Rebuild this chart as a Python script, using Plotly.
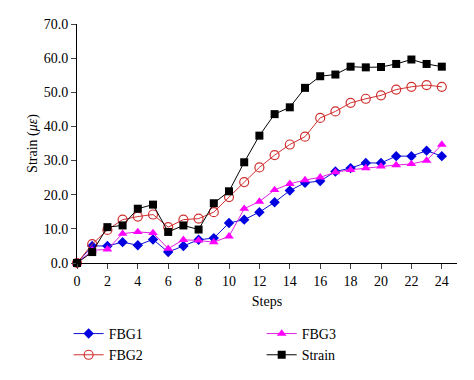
import plotly.graph_objects as go

steps = list(range(25))
fbg1 = [0, 5.0, 5.0, 6.1, 5.2, 6.9, 3.2, 5.0, 6.8, 7.3, 11.7, 12.7, 14.9, 17.8, 21.2, 23.5, 24.0, 26.8, 27.8, 29.3, 29.3, 31.3, 31.3, 32.9, 31.3]
fbg2 = [0, 5.5, 9.7, 12.7, 13.6, 14.2, 10.5, 12.7, 13.0, 14.9, 19.3, 23.7, 28.0, 31.6, 34.7, 37.0, 42.5, 44.4, 46.9, 48.1, 49.1, 50.8, 51.6, 52.1, 51.6]
fbg3 = [0, 3.7, 4.0, 8.6, 9.1, 8.8, 4.2, 6.8, 6.6, 6.1, 7.8, 15.9, 18.0, 21.4, 23.2, 24.3, 25.1, 26.6, 27.3, 27.8, 28.3, 28.7, 29.0, 30.0, 34.7]
strain = [0, 3.2, 10.5, 11.0, 15.9, 17.1, 9.1, 11.0, 9.8, 17.5, 21.0, 29.5, 37.3, 43.6, 45.6, 51.3, 54.7, 55.2, 57.5, 57.3, 57.4, 58.3, 59.6, 58.3, 57.5]
y_ticks = [0, 10, 20, 30, 40, 50, 60, 70]
y_labels = ["0.0", "10.0", "20.0", "30.0", "40.0", "50.0", "60.0", "70.0"]
x_ticks = list(range(0, 25, 2))

FONT = "Liberation Serif, Times New Roman, serif"

fig = go.Figure()
fig.add_trace(go.Scatter(x=steps, y=fbg1, name="FBG1", mode="lines+markers",
                         line=dict(color="#1010D0", width=1),
                         marker=dict(symbol="diamond", size=8, color="#0000E0"),
                         cliponaxis=False, legend="legend"))
fig.add_trace(go.Scatter(x=steps, y=fbg2, name="FBG2", mode="lines+markers",
                         line=dict(color="#D03030", width=1),
                         marker=dict(symbol="circle-open", size=9, color="#D03030", line=dict(width=1.2)),
                         cliponaxis=False, legend="legend"))
fig.add_trace(go.Scatter(x=steps, y=fbg3, name="FBG3", mode="lines+markers",
                         line=dict(color="#E020E0", width=1),
                         marker=dict(symbol="triangle-up", size=8.5, color="#FF00FF"),
                         cliponaxis=False, legend="legend2"))
fig.add_trace(go.Scatter(x=steps, y=strain, name="Strain", mode="lines+markers",
                         line=dict(color="black", width=1),
                         marker=dict(symbol="square", size=8, color="black"),
                         cliponaxis=False, legend="legend2"))

legend_common = dict(orientation="v", xanchor="left", yanchor="top",
                     font=dict(family=FONT, size=14, color="black"),
                     bgcolor="rgba(0,0,0,0)", tracegroupgap=0, itemwidth=30)

fig.update_layout(
    width=474, height=380,
    margin=dict(l=69, r=25, t=16, b=125),
    paper_bgcolor="white", plot_bgcolor="white",
    font=dict(family=FONT, size=13, color="black"),
    xaxis=dict(range=[0, 25], tickvals=x_ticks, ticks="outside", ticklen=5,
               showline=True, linecolor="black", linewidth=1, showgrid=False, zeroline=False,
               title=dict(text="Steps", font=dict(size=14), standoff=8),
               tickfont=dict(size=14), automargin=False),
    yaxis=dict(range=[0, 70], tickvals=y_ticks, ticktext=y_labels, ticks="outside", ticklen=5,
               showline=True, linecolor="black", linewidth=1, showgrid=False, zeroline=False,
               title=dict(text="Strain (<i>με</i>)", font=dict(size=14), standoff=2),
               tickfont=dict(size=14), automargin=False),
    legend=dict(x=-0.022, y=-0.23, **legend_common),
    legend2=dict(x=0.486, y=-0.23, **legend_common),
)

fig.write_html("out.html")
